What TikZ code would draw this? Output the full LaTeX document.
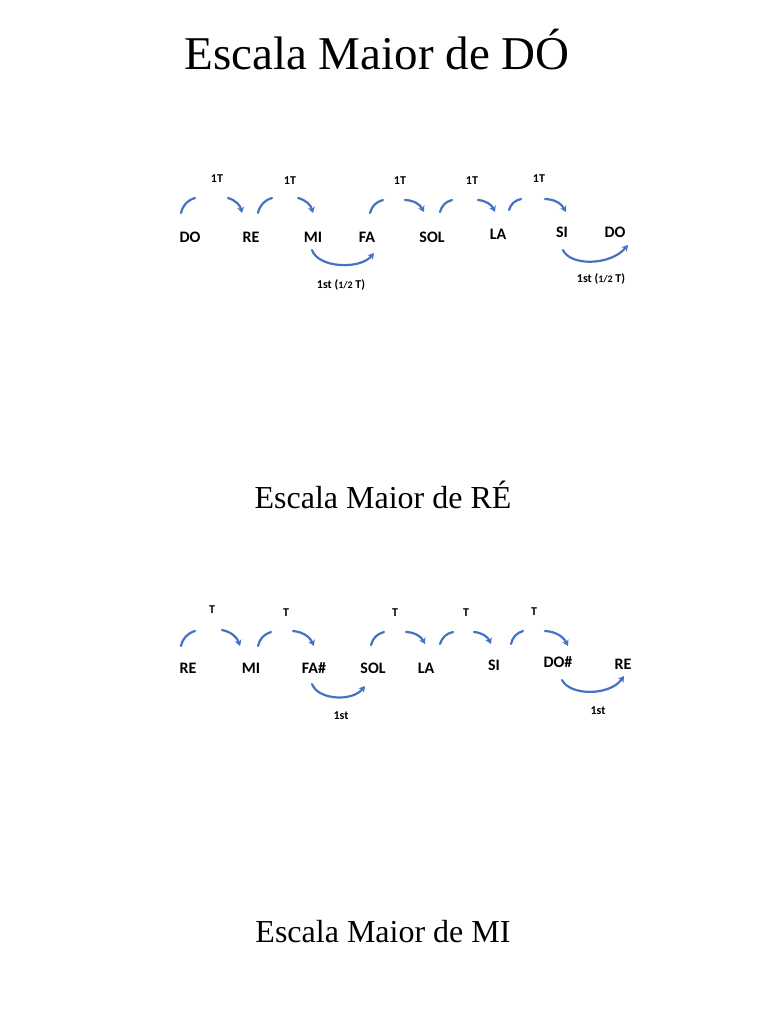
\documentclass[tikz,border=0pt]{standalone}
\usepackage{fontspec}
\setmainfont{Liberation Serif}
\newfontfamily\notefont{Carlito}[BoldFont=* Bold]
\usetikzlibrary{arrows.meta}
\definecolor{arcblue}{RGB}{68,114,196}
\tikzset{
 note/.style={font=\notefont\bfseries\fontsize{16}{18}\selectfont,inner sep=0pt},
 lab/.style={font=\notefont\bfseries\fontsize{12}{14}\selectfont,inner sep=0pt},
 arcl/.style={draw=arcblue,line width=2.2pt,line cap=round},
 arca/.style={arcl,-{Stealth[length=6pt,width=7pt]}},
 title/.style={font=\fontsize{#1}{#1}\selectfont,inner sep=0pt}
}
\newcommand{\toparc}[7]{% x1 y1 x2 y2 x3 x4 ylow
 \draw[arcl] (#1,#7) to[bend left=35] (#2,#3);
 \draw[arca] (#4,#3) to[bend left=35] (#5,#6);
}
\begin{document}
\begin{tikzpicture}[x=1pt,y=-1pt]
\useasboundingbox (0,0) rectangle (768,1024);
\node[title=47] (t1) at (377,50) {Escala Maior de DÓ};
\node[title=32] (t2) at (383,495) {Escala Maior de RÉ};
\node[title=32] (t3) at (383,932) {Escala Maior de MI};
% row 1
\foreach \n/\x/\y in {a1/190/237,a2/251/237,a3/313/237,a4/367/237,a5/432/237,a6/498/234,a7/562/232,a8/615/232}{}
\node[note] (do1) at (190,237) {DO};
\node[note] (re1) at (251,237) {RE};
\node[note] (mi1) at (313,237) {MI};
\node[note] (fa1) at (367,237) {FA};
\node[note] (sol1) at (432,237) {SOL};
\node[note] (la1) at (498,234) {LA};
\node[note] (si1) at (562,232) {SI};
\node[note] (do1b) at (615,232) {DO};
\node[lab] at (217,179) {1T};
\node[lab] at (290,181) {1T};
\node[lab] at (400,181) {1T};
\node[lab] at (472,181) {1T};
\node[lab] at (539,179) {1T};
\draw[arcl] (181,213) to[bend left=30] (195,198); \draw[arca] (228,198) to[bend left=30] (242,213);
\draw[arcl] (258,213) to[bend left=30] (272,198); \draw[arca] (298,198) to[bend left=30] (313,213);
\draw[arcl] (370,213) to[bend left=30] (383,200); \draw[arca] (405,200) to[bend left=30] (424,212);
\draw[arcl] (440,212) to[bend left=30] (452,200); \draw[arca] (478,200) to[bend left=30] (495,212);
\draw[arcl] (509,210) to[bend left=30] (521,199); \draw[arca] (545,199) to[bend left=30] (566,212);
\draw[arca] (312,250) .. controls (318,268) and (360,270) .. (374,253);
\draw[arca] (563,250) .. controls (570,266) and (610,266) .. (628,245);
\node[lab] at (341,285) {1st (\fontsize{10}{12}\selectfont 1/2\fontsize{12}{14}\selectfont\ T)};
\node[lab] at (601,279) {1st (\fontsize{10}{12}\selectfont 1/2\fontsize{12}{14}\selectfont\ T)};
% row 2
\node[note] (re2) at (188,668) {RE};
\node[note] (mi2) at (251,668) {MI};
\node[note] (fa2) at (314,668) {FA\#};
\node[note] (sol2) at (373,668) {SOL};
\node[note] (la2) at (426,668) {LA};
\node[note] (si2) at (494,665) {SI};
\node[note] (do2) at (558,662) {DO\#};
\node[note] (re2b) at (623,664) {RE};
\node[lab] at (212,610) {T};
\node[lab] at (286,613) {T};
\node[lab] at (395,613) {T};
\node[lab] at (466,613) {T};
\node[lab] at (534,612) {T};
\draw[arcl] (181,646) to[bend left=30] (195,631); \draw[arca] (222,630) to[bend left=30] (240,646);
\draw[arcl] (258,646) to[bend left=30] (271,632); \draw[arca] (293,631) to[bend left=30] (314,646);
\draw[arcl] (371,645) to[bend left=30] (384,632); \draw[arca] (406,632) to[bend left=30] (425,644);
\draw[arcl] (440,644) to[bend left=30] (453,632); \draw[arca] (474,632) to[bend left=30] (491,644);
\draw[arcl] (511,644) to[bend left=30] (523,631); \draw[arca] (545,631) to[bend left=30] (568,646);
\draw[arca] (312,684) .. controls (318,700) and (352,702) .. (365,686);
\draw[arca] (562,680) .. controls (570,696) and (610,696) .. (624,676);
\node[lab] at (341,716) {1st};
\node[lab] at (598,711) {1st};
\end{tikzpicture}
\end{document}
